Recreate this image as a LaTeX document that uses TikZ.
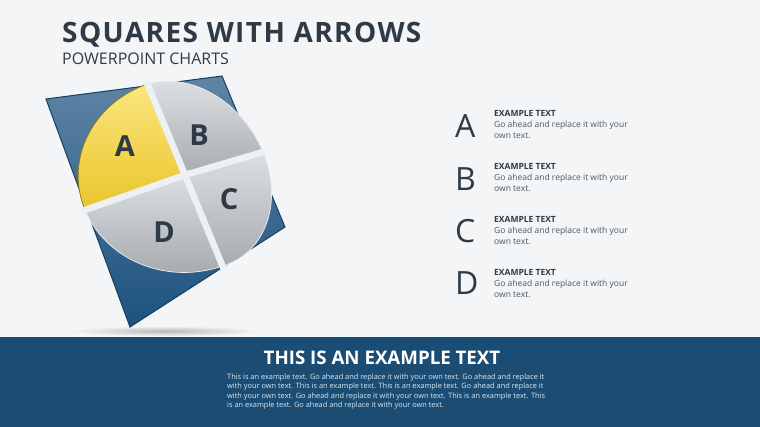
\documentclass[tikz,border=0pt]{standalone}
\usepackage{fontspec}
\setmainfont{Open Sans}
\definecolor{bgc}{HTML}{F3F5F7}
\definecolor{gapc}{HTML}{EEF1F4}
\definecolor{band}{HTML}{1B4D74}
\definecolor{ink}{HTML}{2E3B46}
\definecolor{frameL}{HTML}{5F84A5}
\definecolor{frameD}{HTML}{1D5280}
\definecolor{frameE}{HTML}{163F62}
\definecolor{grayL}{HTML}{DCDFE2}
\definecolor{grayD}{HTML}{A7ACB1}
\definecolor{yelL}{HTML}{FBE67E}
\definecolor{yelD}{HTML}{E9C42A}
\definecolor{bodyc}{HTML}{DCE6EE}
\tikzset{
  quadgray/.style={top color=grayL, bottom color=grayD, draw=white!85!gray, line width=0.7pt},
  quadyel/.style={top color=yelL, bottom color=yelD, draw=yelD!60!black, line width=0.7pt},
  gapline/.style={draw=gapc, line width=6.5pt},
  qlabel/.style={inner sep=0pt, text=ink, font=\bfseries\fontsize{29}{30}\selectfont},
  bigletter/.style={anchor=base west, inner sep=0pt, text=ink, font=\fontsize{32}{34}\selectfont},
  exhead/.style={anchor=base west, inner sep=0pt, text=ink, font=\bfseries\fontsize{8.5}{10}\selectfont},
  exbody/.style={anchor=base west, inner sep=0pt, text=ink!85, font=\fontsize{8.5}{10.5}\selectfont, align=left}
}
\begin{document}
\begin{tikzpicture}[x=1pt,y=-1pt]
\useasboundingbox (0,0) rectangle (760,427);
\fill[bgc] (0,0) rectangle (760,427);
\fill[band] (0,337) rectangle (760,427);
% title
\node[anchor=base west, inner sep=0pt, text=ink, font=\bfseries\fontsize{28}{30}\selectfont\addfontfeature{LetterSpace=5}] (title) at (62,43) {SQUARES WITH ARROWS};
\node[anchor=base west, inner sep=0pt, text=ink, font=\fontsize{16}{18}\selectfont] (subtitle) at (62,65) {POWERPOINT CHARTS};
% shadow
\shade[inner color=gray!55, outer color=bgc] (165,331) ellipse (95 and 5);
% frame
\shade[top color=frameL, middle color=frameD, bottom color=frameD, draw=frameE, line width=1pt] (46,99) -- (222,76) -- (285,227) -- (130,327) -- cycle;
% left quadrants
\begin{scope}[shift={(185,175)}, x={(100pt,35pt)}, y={(37.5pt,-91pt)}]
  \shade[quadyel] (0,0) -- plot[domain=180:270, samples=40] ({cos(\x)},{sin(\x)}) -- cycle;
  \shade[quadgray] (0,0) -- plot[domain=90:180, samples=40] ({cos(\x)},{sin(\x)}) -- cycle;
  \draw[gapline] (-1.03,0) -- (0,0);
\end{scope}
% right quadrants
\begin{scope}[shift={(185,175)}, x={(78pt,23pt)}, y={(37.5pt,-91pt)}]
  \shade[quadgray] (0,0) -- plot[domain=270:360, samples=40] ({cos(\x)},{sin(\x)}) -- cycle;
  \shade[quadgray] (0,0) -- plot[domain=0:90, samples=40] ({cos(\x)},{sin(\x)}) -- cycle;
  \draw[gapline] (1.04,0) -- (0,0);
  \draw[gapline] (0,-1.03) -- (0,1.03);
\end{scope}
\node[qlabel] (qa) at (125,146) {A};
\node[qlabel] (qb) at (199,135) {B};
\node[qlabel] (qc) at (229,199) {C};
\node[qlabel] (qd) at (164,232) {D};
% right list
\node[bigletter] (la) at (455,138) {A};
\node[bigletter] (lb) at (455,190.5) {B};
\node[bigletter] (lc) at (455,243) {C};
\node[bigletter] (ld) at (455,295) {D};
\foreach \n/\yy in {a/117,b/170,c/223,d/276}{
  \node[exhead] (h\n) at (494,\yy) {EXAMPLE TEXT};
  \node[exbody] (t\n) at (494,\yy+11) {Go ahead and replace it with your};
  \node[exbody] (u\n) at (494,\yy+21.5) {own text.};
}
% bottom band text
\node[anchor=base, inner sep=0pt, text=white, font=\bfseries\fontsize{18.7}{20}\selectfont] (bh) at (382,365) {THIS IS AN EXAMPLE TEXT};
\node[anchor=north west, inner sep=0pt, text=bodyc, font=\fontsize{7.4}{9.5}\selectfont, align=left] (bt) at (227,373.5) {This is an example text. Go ahead and replace it with your own text. Go ahead and replace it\\
with your own text. This is an example text. This is an example text. Go ahead and replace it\\
with your own text. Go ahead and replace it with your own text. This is an example text. This\\
is an example text. Go ahead and replace it with your own text.};
\end{tikzpicture}
\end{document}
